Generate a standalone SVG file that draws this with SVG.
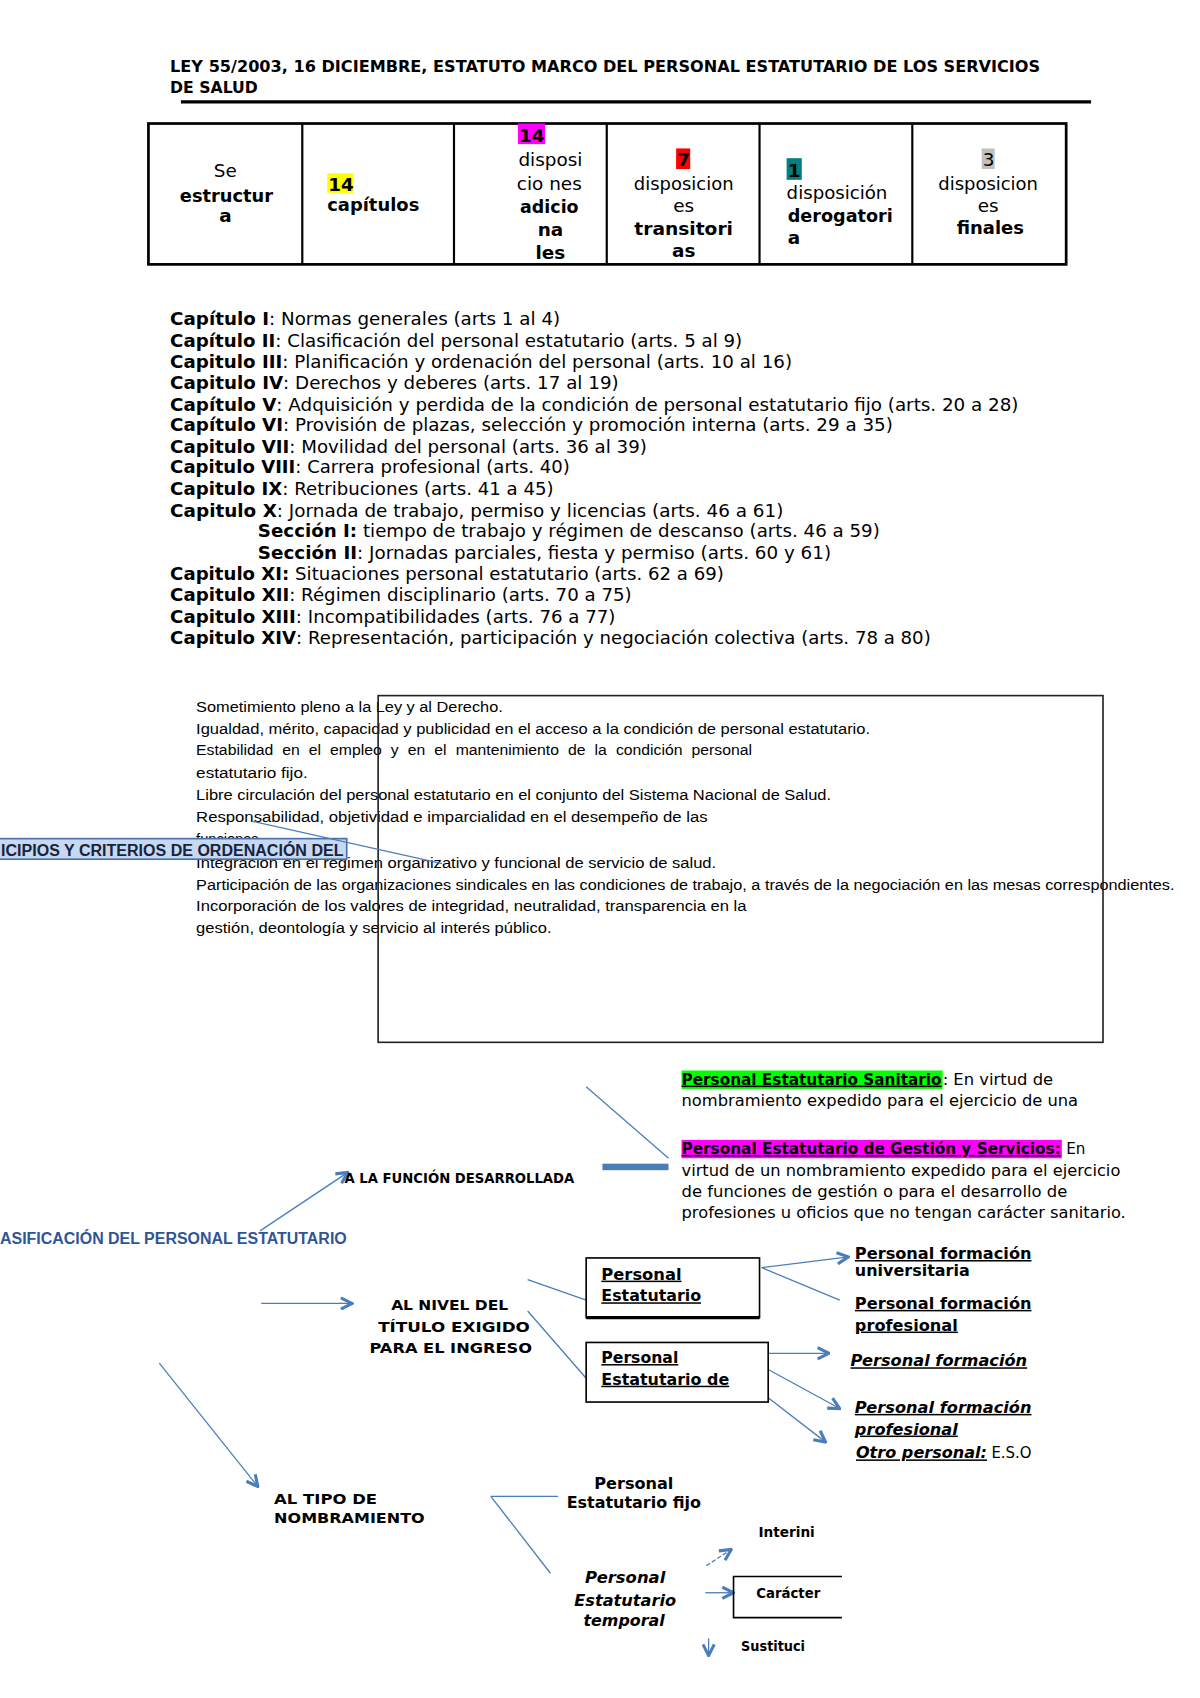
<svg xmlns="http://www.w3.org/2000/svg" width="1200" height="1698" viewBox="0 0 1200 1698">
<defs>
<style>
.v{font-family:"DejaVu Sans",Verdana,sans-serif;fill:#000}
.vb{font-family:"DejaVu Sans",Verdana,sans-serif;font-weight:bold;fill:#000}
.c{font-family:"Liberation Sans",Arial,sans-serif;fill:#000}
.cell{font-size:17px}
.cap{font-size:16px}
.pr{font-size:13.5px}
.lo{font-size:14px}
.u{text-decoration:underline}
.i{font-style:italic}
.conn{stroke:#4a7ebb;stroke-width:1.2;fill:none}
.blk{stroke:#000;fill:none}
.lbl{font-family:"Liberation Sans",Arial,sans-serif;font-weight:bold;fill:#17233f}
.clas{font-family:"Liberation Sans",Arial,sans-serif;font-weight:bold;fill:#2f5597}
</style>
<marker id="chev" viewBox="0 0 10 10" refX="9" refY="5" markerWidth="13" markerHeight="13" markerUnits="userSpaceOnUse" orient="auto">
<path d="M1,1 L9,5 L1,9" fill="none" stroke="#4a7ebb" stroke-width="2.2"/>
</marker>
<clipPath id="abovebox"><rect x="0" y="600" width="1100" height="174"/></clipPath>
</defs>
<rect width="1200" height="1698" fill="#fff"/>
<g transform="scale(1.0835)">
<g id="header">
<text class="vb" font-size="14" x="157" y="66" textLength="803" lengthAdjust="spacingAndGlyphs">LEY 55/2003, 16 DICIEMBRE, ESTATUTO MARCO DEL PERSONAL ESTATUTARIO  DE LOS  SERVICIOS</text>
<text class="vb" font-size="14" x="157" y="86" textLength="81" lengthAdjust="spacingAndGlyphs">DE SALUD</text>
<line x1="167" y1="94" x2="1007" y2="94" stroke="#000" stroke-width="3"/>
</g>
<g id="table">
<rect x="137" y="114" width="847" height="130" class="blk" stroke-width="2.5"/>
<path d="M279,114V244M419,114V244M560,114V244M701,114V244M842,114V244" class="blk" stroke-width="2"/>
<rect x="302" y="160" width="24" height="18" fill="#ffff00"/>
<rect x="478" y="114" width="25" height="19" fill="#ff00ff"/>
<rect x="624" y="137" width="13" height="19" fill="#ff0000"/>
<rect x="726" y="146" width="14" height="20" fill="#008080"/>
<rect x="906" y="137" width="12" height="19" fill="#c0c0c0"/>
<text class="v cell" x="208" y="163" text-anchor="middle">Se</text>
<text class="vb cell" x="209" y="186" text-anchor="middle" textLength="86" lengthAdjust="spacingAndGlyphs">estructur</text>
<text class="vb cell" x="208" y="205" text-anchor="middle">a</text>
<text class="vb cell" x="303" y="176">14</text>
<text class="vb cell" x="302" y="195" textLength="85" lengthAdjust="spacingAndGlyphs">capítulos</text>
<text class="vb cell" x="479" y="131">14</text>
<text class="v cell" x="508" y="153" text-anchor="middle">disposi</text>
<text class="v cell" x="507" y="175" text-anchor="middle">cio nes</text>
<text class="vb cell" x="507" y="197" text-anchor="middle" textLength="54" lengthAdjust="spacingAndGlyphs">adicio</text>
<text class="vb cell" x="508" y="218" text-anchor="middle">na</text>
<text class="vb cell" x="508" y="239" text-anchor="middle">les</text>
<text class="vb cell" x="625" y="153">7</text>
<text class="v cell" x="631" y="175" text-anchor="middle" textLength="92" lengthAdjust="spacingAndGlyphs">disposicion</text>
<text class="v cell" x="631" y="196" text-anchor="middle">es</text>
<text class="vb cell" x="631" y="217" text-anchor="middle" textLength="91" lengthAdjust="spacingAndGlyphs">transitori</text>
<text class="vb cell" x="631" y="237" text-anchor="middle">as</text>
<text class="vb cell" x="727" y="163">1</text>
<text class="v cell" x="726" y="184" textLength="93" lengthAdjust="spacingAndGlyphs">disposición</text>
<text class="vb cell" x="727" y="205" textLength="97" lengthAdjust="spacingAndGlyphs">derogatori</text>
<text class="vb cell" x="727" y="225">a</text>
<text class="v cell" x="907" y="153">3</text>
<text class="v cell" x="912" y="175" text-anchor="middle" textLength="92" lengthAdjust="spacingAndGlyphs">disposicion</text>
<text class="v cell" x="912" y="196" text-anchor="middle">es</text>
<text class="vb cell" x="914" y="216" text-anchor="middle" textLength="62" lengthAdjust="spacingAndGlyphs">finales</text>
</g>
<g id="chapters" class="v cap">
<text x="157" y="300" textLength="360" lengthAdjust="spacingAndGlyphs"><tspan font-weight="bold">Capítulo I</tspan>: Normas generales (arts 1 al 4)</text>
<text x="157" y="320" textLength="528" lengthAdjust="spacingAndGlyphs"><tspan font-weight="bold">Capítulo II</tspan>: Clasificación del personal estatutario (arts. 5 al 9)</text>
<text x="157" y="340" textLength="574" lengthAdjust="spacingAndGlyphs"><tspan font-weight="bold">Capitulo III</tspan>: Planificación y ordenación del personal (arts. 10 al 16)</text>
<text x="157" y="359" textLength="414" lengthAdjust="spacingAndGlyphs"><tspan font-weight="bold">Capitulo IV</tspan>: Derechos y deberes (arts. 17 al 19)</text>
<text x="157" y="379" textLength="783" lengthAdjust="spacingAndGlyphs"><tspan font-weight="bold">Capítulo V</tspan>: Adquisición y perdida de la condición de personal estatutario fijo (arts. 20 a 28)</text>
<text x="157" y="398" textLength="667" lengthAdjust="spacingAndGlyphs"><tspan font-weight="bold">Capítulo VI</tspan>: Provisión de plazas, selección y promoción interna (arts. 29 a 35)</text>
<text x="157" y="418" textLength="440" lengthAdjust="spacingAndGlyphs"><tspan font-weight="bold">Capitulo VII</tspan>: Movilidad del personal (arts. 36 al 39)</text>
<text x="157" y="437" textLength="369" lengthAdjust="spacingAndGlyphs"><tspan font-weight="bold">Capitulo VIII</tspan>: Carrera profesional (arts. 40)</text>
<text x="157" y="457" textLength="354" lengthAdjust="spacingAndGlyphs"><tspan font-weight="bold">Capitulo IX</tspan>: Retribuciones (arts. 41 a 45)</text>
<text x="157" y="477" textLength="566" lengthAdjust="spacingAndGlyphs"><tspan font-weight="bold">Capitulo X</tspan>: Jornada de trabajo, permiso y licencias (arts. 46 a 61)</text>
<text x="238" y="496" textLength="574" lengthAdjust="spacingAndGlyphs"><tspan font-weight="bold">Sección I:</tspan> tiempo de trabajo y régimen de descanso (arts. 46 a 59)</text>
<text x="238" y="516" textLength="529" lengthAdjust="spacingAndGlyphs"><tspan font-weight="bold">Sección II</tspan>: Jornadas parciales, fiesta y permiso (arts. 60 y 61)</text>
<text x="157" y="535" textLength="511" lengthAdjust="spacingAndGlyphs"><tspan font-weight="bold">Capitulo XI:</tspan> Situaciones personal estatutario (arts. 62 a 69)</text>
<text x="157" y="555" textLength="426" lengthAdjust="spacingAndGlyphs"><tspan font-weight="bold">Capitulo XII</tspan>: Régimen disciplinario (arts. 70 a 75)</text>
<text x="157" y="575" textLength="411" lengthAdjust="spacingAndGlyphs"><tspan font-weight="bold">Capitulo XIII</tspan>: Incompatibilidades (arts. 76 a 77)</text>
<text x="157" y="594" textLength="702" lengthAdjust="spacingAndGlyphs"><tspan font-weight="bold">Capitulo XIV</tspan>: Representación, participación y negociación colectiva (arts. 78 a 80)</text>
</g>
<g id="principios">
<g class="c pr">
<text x="181" y="657" textLength="283" lengthAdjust="spacingAndGlyphs">Sometimiento pleno a la Ley y al Derecho.</text>
<text x="181" y="677" textLength="622" lengthAdjust="spacingAndGlyphs">Igualdad, mérito, capacidad y publicidad en el acceso a la condición de personal estatutario.</text>
<text x="181" y="697" word-spacing="4" textLength="513" lengthAdjust="spacingAndGlyphs">Estabilidad en el empleo y en el mantenimiento de la condición personal</text>
<text x="181" y="718" textLength="103" lengthAdjust="spacingAndGlyphs">estatutario fijo.</text>
<text x="181" y="738" textLength="586" lengthAdjust="spacingAndGlyphs">Libre circulación del personal estatutario en el conjunto del Sistema Nacional de Salud.</text>
<text x="181" y="759" textLength="472" lengthAdjust="spacingAndGlyphs">Responsabilidad, objetividad e imparcialidad en el desempeño de  las</text>
<text x="181" y="779" clip-path="url(#abovebox)">funciones.</text>
<text x="181" y="801" textLength="480" lengthAdjust="spacingAndGlyphs">Integración en el régimen organizativo y funcional de servicio de salud.</text>
<text x="181" y="821" textLength="903" lengthAdjust="spacingAndGlyphs">Participación de las organizaciones sindicales en las condiciones de trabajo, a través de la negociación en las mesas correspondientes.</text>
<text x="181" y="841" textLength="508" lengthAdjust="spacingAndGlyphs">Incorporación de los valores de integridad, neutralidad, transparencia en la</text>
<text x="181" y="861" textLength="328" lengthAdjust="spacingAndGlyphs">gestión, deontología y servicio al interés público.</text>
</g>
<rect x="349" y="642" width="669" height="320" fill="none" stroke="#222" stroke-width="1.5"/>
</g>
<g id="label-principios">
<rect x="-5" y="774" width="325" height="19" fill="#c6d9f1" stroke="#4a6ea8" stroke-width="1.5"/>
<text class="lbl" font-size="16" x="1" y="790" textLength="316" lengthAdjust="spacingAndGlyphs">ICIPIOS Y CRITERIOS DE ORDENACIÓN DEL</text>
</g>
<g id="connectors">
<line class="conn" x1="233" y1="758" x2="408" y2="797"/>
<line class="conn" x1="541" y1="1003" x2="617" y2="1069"/>
<rect x="556" y="1074" width="61" height="6" fill="#4a7ebb"/>
<line class="conn" x1="240" y1="1136" x2="321" y2="1082" marker-end="url(#chev)"/>
<line class="conn" x1="241" y1="1203" x2="325" y2="1203" marker-end="url(#chev)"/>
<line class="conn" x1="487" y1="1181" x2="541" y2="1200"/>
<line class="conn" x1="487" y1="1210" x2="541" y2="1272"/>
<line class="conn" x1="703" y1="1170" x2="783" y2="1160" marker-end="url(#chev)"/>
<line class="conn" x1="703" y1="1170" x2="775" y2="1200"/>
<line class="conn" x1="709" y1="1249" x2="765" y2="1249" marker-end="url(#chev)"/>
<line class="conn" x1="709" y1="1264" x2="775" y2="1300" marker-end="url(#chev)"/>
<line class="conn" x1="709" y1="1290" x2="762" y2="1331" marker-end="url(#chev)"/>
<line class="conn" x1="147" y1="1258" x2="238" y2="1372" marker-end="url(#chev)"/>
<line class="conn" x1="453" y1="1381" x2="515" y2="1381"/>
<line class="conn" x1="453" y1="1381" x2="508" y2="1452"/>
<line class="conn" x1="652" y1="1445" x2="675" y2="1430" stroke-dasharray="4,2" marker-end="url(#chev)"/>
<line class="conn" x1="651" y1="1470" x2="677" y2="1470" marker-end="url(#chev)"/>
<line class="conn" x1="654" y1="1512" x2="654" y2="1528" marker-end="url(#chev)"/>
</g>
<g id="sanitario">
<rect x="629" y="988" width="241" height="17" fill="#00ff00"/>
<text class="vb lo u" x="629" y="1001" textLength="240" lengthAdjust="spacingAndGlyphs">Personal Estatutario Sanitario</text>
<text class="v lo" x="870" y="1001" textLength="102" lengthAdjust="spacingAndGlyphs">: En virtud de</text>
<text class="v lo" x="629" y="1021" textLength="366" lengthAdjust="spacingAndGlyphs">nombramiento expedido para el ejercicio de una</text>
</g>
<g id="gestion">
<rect x="629" y="1052" width="351" height="17" fill="#ff00ff"/>
<text class="vb lo u" x="629" y="1065" textLength="350" lengthAdjust="spacingAndGlyphs">Personal Estatutario de Gestión y Servicios:</text>
<text class="v lo" x="984" y="1065">En</text>
<text class="v lo" x="629" y="1085" textLength="405" lengthAdjust="spacingAndGlyphs">virtud de un nombramiento expedido para el ejercicio</text>
<text class="v lo" x="629" y="1105" textLength="356" lengthAdjust="spacingAndGlyphs">de funciones de gestión o para el desarrollo de</text>
<text class="v lo" x="629" y="1124" textLength="410" lengthAdjust="spacingAndGlyphs">profesiones u oficios que no tengan carácter sanitario.</text>
</g>
<g id="funcion">
<text class="vb" font-size="13" x="318" y="1092" textLength="212" lengthAdjust="spacingAndGlyphs">A LA FUNCIÓN DESARROLLADA</text>
</g>
<g id="clasificacion">
<text class="clas" font-size="16" x="0" y="1148" textLength="320" lengthAdjust="spacingAndGlyphs">ASIFICACIÓN DEL PERSONAL  ESTATUTARIO</text>
</g>
<g id="nivel" class="vb" font-size="13">
<text x="415" y="1209" text-anchor="middle" textLength="108" lengthAdjust="spacingAndGlyphs">AL NIVEL DEL</text>
<text x="419" y="1229" text-anchor="middle" textLength="140" lengthAdjust="spacingAndGlyphs">TÍTULO EXIGIDO</text>
<text x="416" y="1249" text-anchor="middle" textLength="150" lengthAdjust="spacingAndGlyphs">PARA EL INGRESO</text>
</g>
<g id="box-estatutario">
<rect x="541" y="1161" width="160" height="55" class="blk" stroke-width="1.5"/>
<line x1="541" y1="1216" x2="701" y2="1216" stroke="#000" stroke-width="3"/>
<text class="vb lo u" x="555" y="1181" textLength="74" lengthAdjust="spacingAndGlyphs">Personal</text>
<text class="vb lo u" x="555" y="1201" textLength="92" lengthAdjust="spacingAndGlyphs">Estatutario</text>
</g>
<g id="box-estatutario-de">
<rect x="541" y="1239" width="168" height="55" class="blk" stroke-width="1.5"/>
<text class="vb lo u" x="555" y="1258" textLength="71" lengthAdjust="spacingAndGlyphs">Personal</text>
<text class="vb lo u" x="555" y="1278" textLength="118" lengthAdjust="spacingAndGlyphs">Estatutario de</text>
</g>
<g id="form-univ" class="vb lo">
<text class="u" x="789" y="1162" textLength="163" lengthAdjust="spacingAndGlyphs">Personal formación</text>
<text x="789" y="1178" textLength="106" lengthAdjust="spacingAndGlyphs">universitaria</text>
</g>
<g id="form-prof" class="vb lo u">
<text x="789" y="1208" textLength="163" lengthAdjust="spacingAndGlyphs">Personal formación</text>
<text x="789" y="1228" textLength="95" lengthAdjust="spacingAndGlyphs">profesional</text>
</g>
<g id="form-2" class="vb lo u i">
<text x="785" y="1261" textLength="163" lengthAdjust="spacingAndGlyphs">Personal formación</text>
</g>
<g id="form-prof-2" class="vb lo u i">
<text x="789" y="1304" textLength="163" lengthAdjust="spacingAndGlyphs">Personal formación</text>
<text x="789" y="1324" textLength="95" lengthAdjust="spacingAndGlyphs">profesional</text>
</g>
<g id="otro">
<text class="vb lo u i" x="790" y="1346" textLength="121" lengthAdjust="spacingAndGlyphs">Otro personal:</text>
<text class="v lo" x="915" y="1346" textLength="37" lengthAdjust="spacingAndGlyphs">E.S.O</text>
</g>
<g id="tipo" class="vb" font-size="13">
<text x="253" y="1388" textLength="95" lengthAdjust="spacingAndGlyphs">AL TIPO DE</text>
<text x="253" y="1406" textLength="139" lengthAdjust="spacingAndGlyphs">NOMBRAMIENTO</text>
</g>
<g id="fijo" class="vb lo">
<text x="585" y="1374" text-anchor="middle" textLength="73" lengthAdjust="spacingAndGlyphs">Personal</text>
<text x="585" y="1392" text-anchor="middle" textLength="124" lengthAdjust="spacingAndGlyphs">Estatutario fijo</text>
</g>
<g id="temporal" class="vb lo i">
<text x="577" y="1461" text-anchor="middle" textLength="74" lengthAdjust="spacingAndGlyphs">Personal</text>
<text x="577" y="1482" text-anchor="middle" textLength="94" lengthAdjust="spacingAndGlyphs">Estatutario</text>
<text x="576" y="1501" text-anchor="middle" textLength="75" lengthAdjust="spacingAndGlyphs">temporal</text>
</g>
<g id="interini">
<text class="vb" font-size="13" x="700" y="1419" textLength="52" lengthAdjust="spacingAndGlyphs">Interini</text>
</g>
<g id="caracter">
<path d="M777,1455H677V1493H777" class="blk" stroke-width="1.5"/>
<text class="vb" font-size="13" x="698" y="1475" textLength="59" lengthAdjust="spacingAndGlyphs">Carácter</text>
</g>
<g id="sustituci">
<text class="vb" font-size="13" x="684" y="1524" textLength="59" lengthAdjust="spacingAndGlyphs">Sustituci</text>
</g>
</g>
</svg>
